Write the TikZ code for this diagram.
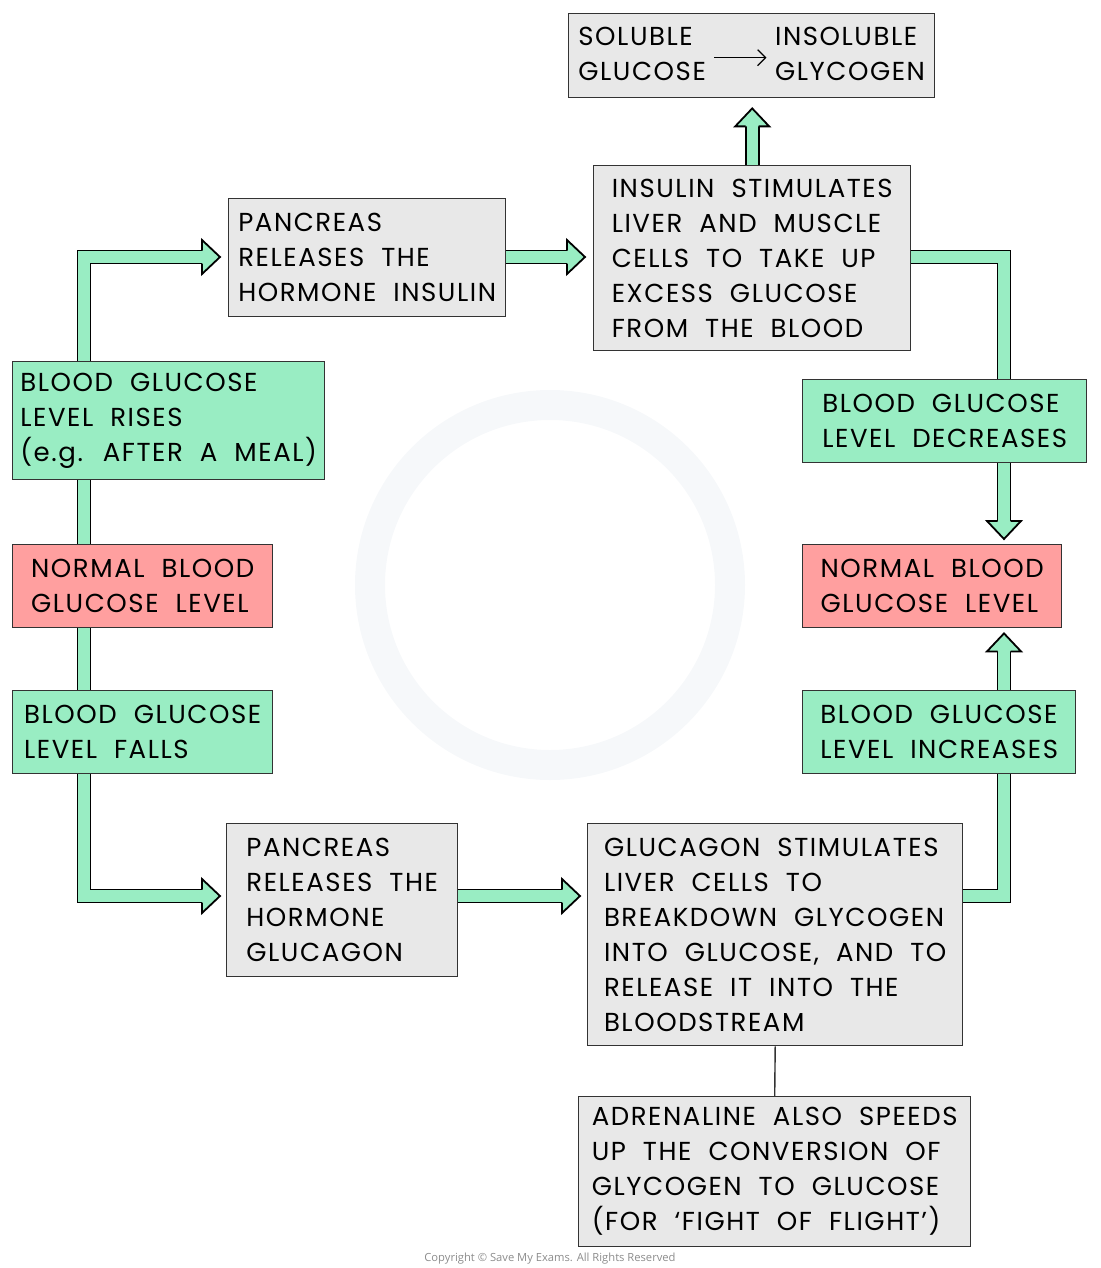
\documentclass[tikz,border=0pt]{standalone}
\usepackage{fontspec}
\setmainfont{Poppins}[LetterSpace=6]
\newfontfamily\copyfont{Open Sans}
\usetikzlibrary{calc,arrows.meta}
\pgfdeclarelayer{background}
\pgfsetlayers{background,main}
\definecolor{boxgrey}{HTML}{E8E8E8}
\definecolor{boxline}{HTML}{333333}
\definecolor{leafgreen}{HTML}{99EDC3}
\definecolor{rosered}{HTML}{FF9F9F}
\definecolor{markgrey}{HTML}{F6F8FA}
\newcommand{\widespace}{\spaceskip=8.5pt plus 1pt\relax}
\newcommand{\turnsinto}{\tikz[baseline=-2pt]\draw[line width=0.6pt, -{Straight Barb[length=4pt,width=8pt]}] (0pt,0pt) -- (26pt,0pt);}
\tikzset{
  box/.style={draw=boxline, line width=0.7pt, fill=boxgrey, anchor=north west,
    align=left, inner sep=0pt, font=\fontsize{13}{17.5}\selectfont,
    execute at begin node=\widespace},
  greenbox/.style={box, fill=leafgreen},
  redbox/.style={box, fill=rosered},
  bar/.style={draw=black, line width=0.9pt, double=leafgreen,
    double distance=5.6pt, line join=miter},
  fathead/.pic={
    \fill[leafgreen] (0,-6.5) -- (0,-17) -- (18,0) -- (0,17) -- (0,6.5) -- cycle;
    \draw[line width=0.9pt, line join=miter] (0,-6.5) -- (0,-17) -- (18,0) -- (0,17) -- (0,6.5);
  }
}
\begin{document}
\begin{tikzpicture}[x=0.5pt,y=-0.5pt]
  \useasboundingbox (0,0) rectangle (1100,1268);
  % lanes and rows for the fat arrows
  \coordinate (laneL) at (84,0);
  \coordinate (laneR) at (1004,0);
  \coordinate (toprow) at (0,257);
  \coordinate (lowrow) at (0,896);

  % top half: insulin
  \node[box, minimum width=183pt, minimum height=42pt] (sol) at (568,13)
    {\begin{tabular}{@{}l@{}}SOLUBLE\\GLUCOSE\end{tabular}\hspace{4pt}\turnsinto\hspace{4pt}\begin{tabular}{@{}l@{}}INSOLUBLE\\GLYCOGEN\end{tabular}};
  \node[box, minimum width=158.5pt, minimum height=92.5pt] (stim) at (593,165)
    {INSULIN STIMULATES\\LIVER AND MUSCLE\\CELLS TO TAKE UP\\EXCESS GLUCOSE\\FROM THE BLOOD};
  \node[box, minimum width=138.5pt, minimum height=59pt] (pins) at (228,198)
    {PANCREAS\\RELEASES THE\\HORMONE INSULIN};
  \node[greenbox, minimum width=156pt, minimum height=59pt] (rise) at (12,361)
    {BLOOD GLUCOSE\\LEVEL RISES\\(e.g. AFTER A MEAL)};
  \node[greenbox, minimum width=142pt, minimum height=41.5pt] (dec) at (802,379)
    {BLOOD GLUCOSE\\LEVEL DECREASES};

  % middle
  \node[redbox, minimum width=130pt, minimum height=41.5pt] (normL) at (12,544)
    {NORMAL BLOOD\\GLUCOSE LEVEL};
  \node[redbox, minimum width=129.5pt, minimum height=41.5pt] (normR) at (802,544)
    {NORMAL BLOOD\\GLUCOSE LEVEL};

  % bottom half: glucagon
  \node[greenbox, minimum width=130pt, minimum height=41.5pt] (fall) at (12,690)
    {BLOOD GLUCOSE\\LEVEL FALLS};
  \node[greenbox, minimum width=136.5pt, minimum height=41.5pt] (inc) at (802,690)
    {BLOOD GLUCOSE\\LEVEL INCREASES};
  \node[box, minimum width=115.5pt, minimum height=76.5pt] (pglu) at (226,823)
    {PANCREAS\\RELEASES THE\\HORMONE\\GLUCAGON};
  \node[box, minimum width=187.5pt, minimum height=111pt] (gstim) at (587,823)
    {GLUCAGON STIMULATES\\LIVER CELLS TO\\BREAKDOWN GLYCOGEN\\INTO GLUCOSE, AND TO\\RELEASE IT INTO THE\\BLOODSTREAM};
  \node[box, minimum width=196pt, minimum height=75pt] (adren) at (578,1096)
    {ADRENALINE ALSO SPEEDS\\UP THE CONVERSION OF\\GLYCOGEN TO GLUCOSE\\(FOR ‘FIGHT OF FLIGHT’)};

  \node[font=\copyfont\fontsize{5.6}{6}\selectfont, text=black!45] (copy) at (550,1259)
    {Copyright © Save My Exams. All Rights Reserved};

  \begin{pgfonlayer}{background}
    \draw[markgrey, line width=15pt] (550,585) circle [radius=180];
    % connectors
    \draw[bar] (rise.north -| laneL) |- ($(pins.west |- toprow)+(-26,0)$) coordinate (h1);
    \draw[bar] (rise.south -| laneL) -- (normL.north -| laneL);
    \draw[bar] (normL.south -| laneL) -- (fall.north -| laneL);
    \draw[bar] (fall.south -| laneL) |- ($(pglu.west |- lowrow)+(-24,0)$) coordinate (h2);
    \draw[bar] (pins.east |- toprow) -- ($(stim.west |- toprow)+(-26,0)$) coordinate (h3);
    \draw[bar] (stim.north) -- ($(sol.south -| stim.north)+(0,28)$) coordinate (h4);
    \draw[bar] (stim.east |- toprow) -| (dec.north -| laneR);
    \draw[bar] (dec.south -| laneR) -- ($(normR.north -| laneR)+(0,-23)$) coordinate (h5);
    \draw[bar] (inc.north -| laneR) -- ($(normR.south -| laneR)+(0,23)$) coordinate (h6);
    \draw[bar] (gstim.east |- lowrow) -| (inc.south -| laneR);
    \draw[bar] (pglu.east |- lowrow) -- ($(gstim.west |- lowrow)+(-25,0)$) coordinate (h7);
    \draw[boxline, line width=0.7pt] (gstim.south) -- (adren.north);
    \pic at (h1) {fathead};
    \pic at (h2) {fathead};
    \pic at (h3) {fathead};
    \pic[rotate=90] at (h4) {fathead};
    \pic[rotate=-90] at (h5) {fathead};
    \pic[rotate=90] at (h6) {fathead};
    \pic at (h7) {fathead};
  \end{pgfonlayer}
\end{tikzpicture}
\end{document}
